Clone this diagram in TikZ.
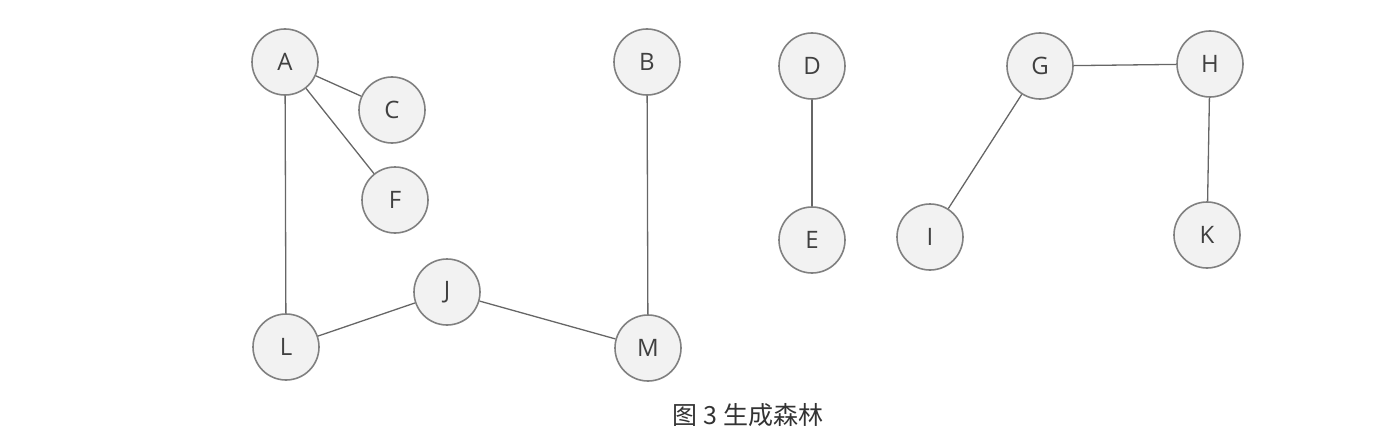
\documentclass[tikz,border=0pt]{standalone}
\usepackage{fontspec}
\setmainfont{Open Sans}
\newfontfamily\cjk{Noto Sans CJK SC}
\begin{document}
\begin{tikzpicture}[x=1pt,y=-1pt,
  vtx/.style={circle,draw=black!50,line width=1.6pt,fill=black!5,minimum size=66pt,inner sep=0pt,font=\fontsize{24}{28}\selectfont,text=black!75},
  edge/.style={draw=black!60,line width=1.3pt}]
\useasboundingbox (0,0) rectangle (1390,444);
\node[vtx] (A) at (285,62) {A};
\node[vtx] (C) at (392,110) {C};
\node[vtx] (F) at (395,200) {F};
\node[vtx] (B) at (647,62) {B};
\node[vtx] (D) at (812,66) {D};
\node[vtx] (E) at (812,240) {E};
\node[vtx] (G) at (1040,66) {G};
\node[vtx] (H) at (1210,64) {H};
\node[vtx] (I) at (930,237) {I};
\node[vtx] (K) at (1207,235) {K};
\node[vtx] (J) at (447,292) {J};
\node[vtx] (L) at (286,347) {L};
\node[vtx] (M) at (648,348) {M};
\draw[edge] (A)--(C); \draw[edge] (A)--(F); \draw[edge] (A)--(L);
\draw[edge] (L)--(J); \draw[edge] (J)--(M); \draw[edge] (B)--(M);
\draw[edge] (D)--(E); \draw[edge] (G)--(H); \draw[edge] (G)--(I); \draw[edge] (H)--(K);
\node[font=\cjk\fontsize{25}{28}\selectfont,text=black!80] (cap) at (748,415) {图 3 生成森林};
\end{tikzpicture}
\end{document}
